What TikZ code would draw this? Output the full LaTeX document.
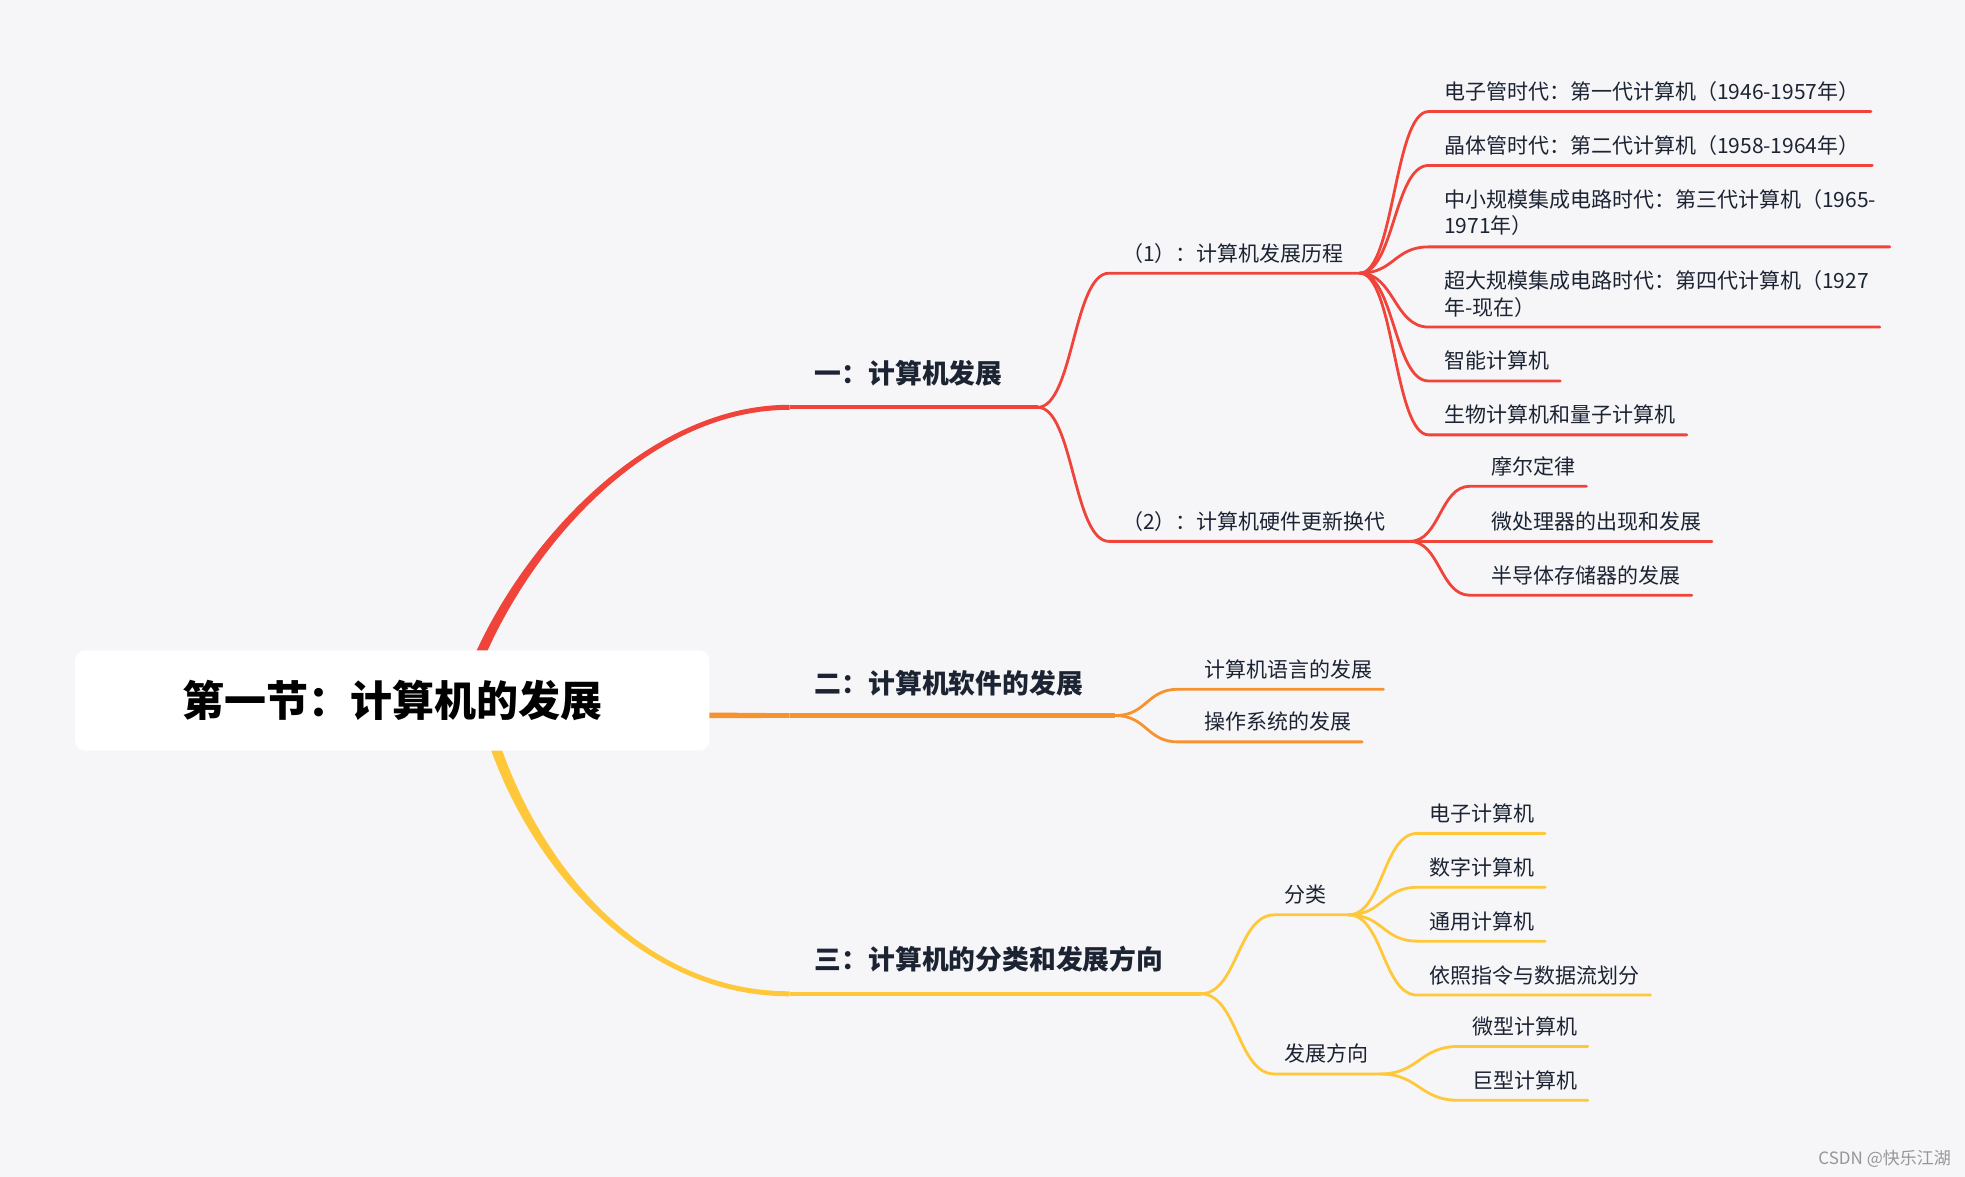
\documentclass[tikz,border=0pt]{standalone}
\usepackage{fontspec}
\setmainfont{Noto Sans CJK SC}
\usetikzlibrary{calc}
\definecolor{bgc}{RGB}{246,246,248}
\definecolor{ink}{RGB}{28,36,51}
\definecolor{mmred}{RGB}{240,67,58}
\definecolor{mmorange}{RGB}{247,146,46}
\definecolor{mmyellow}{RGB}{255,200,58}
\definecolor{wmark}{RGB}{150,150,150}
\newcommand\mmlink[4]{\draw[#1] (#2) .. controls ($(#2)!0.5!(#2-|#3)$) and ($(#3)!0.5!(#3-|#2)$) .. (#3) -- (#4);}
\tikzset{
  lk/.style={line width=1.4pt, line cap=round},
  lv/.style={line width=2.2pt},
  t2/.style={font=\fontsize{10.5pt}{13.2pt}\selectfont, text=ink, inner sep=0pt, anchor=base west},
  t2m/.style={t2, align=left},
  t1/.style={font=\fontsize{13.4pt}{16pt}\selectfont\bfseries, text=ink, inner sep=0pt, anchor=base west},
}
\begin{document}
\begin{tikzpicture}[x=0.6266pt,y=-0.6266pt]
\fill[bgc] (0,0) rectangle (1568,939);
\useasboundingbox (0,0) rectangle (1568,939);

% ---------- coordinates ----------
\coordinate (r0) at (630,325);  \coordinate (f1) at (828,325);
\coordinate (p1s) at (885,218); \coordinate (p1e) at (1085,218);
\coordinate (p2s) at (885,432); \coordinate (p2e) at (1125,432);
\coordinate (a1s) at (1140,89);  \coordinate (a1e) at (1493,89);
\coordinate (a2s) at (1140,132); \coordinate (a2e) at (1494,132);
\coordinate (a3s) at (1140,197); \coordinate (a3e) at (1508,197);
\coordinate (a4s) at (1140,261); \coordinate (a4e) at (1500,261);
\coordinate (a5s) at (1140,304); \coordinate (a5e) at (1245,304);
\coordinate (a6s) at (1140,347); \coordinate (a6e) at (1346,347);
\coordinate (b1s) at (1173,388); \coordinate (b1e) at (1266,388);
\coordinate (b2s) at (1173,432); \coordinate (b2e) at (1366,432);
\coordinate (b3s) at (1173,475); \coordinate (b3e) at (1350,475);

\coordinate (o0) at (630,571);  \coordinate (f2) at (890,571);
\coordinate (o1s) at (940,550); \coordinate (o1e) at (1104,550);
\coordinate (o2s) at (940,592); \coordinate (o2e) at (1087,592);

\coordinate (y0) at (630,793);  \coordinate (f3) at (958,793);
\coordinate (q1s) at (1017,730); \coordinate (q1e) at (1076,730);
\coordinate (q2s) at (1017,857); \coordinate (q2e) at (1101,857);
\coordinate (y1s) at (1131,665); \coordinate (y1e) at (1233,665);
\coordinate (y2s) at (1131,708); \coordinate (y2e) at (1233,708);
\coordinate (y3s) at (1131,751); \coordinate (y3e) at (1233,751);
\coordinate (y4s) at (1131,794); \coordinate (y4e) at (1317,794);
\coordinate (z1s) at (1164,835); \coordinate (z1e) at (1267,835);
\coordinate (z2s) at (1164,878); \coordinate (z2e) at (1267,878);

% ---------- main branches (tapered) ----------
\fill[mmred] (360.5,575) .. controls (385.8,468.5) and (500,323) .. (630,323)
  -- (630,327) .. controls (500,327) and (394.2,471.5) .. (369.5,575) -- cycle;
\draw[lv,mmred] (r0) -- (f1);
\fill[mmorange] (560,568.5) -- (630,569.1) -- (630,572.9) -- (560,573.0) -- cycle;
\draw[lv,mmorange] (o0) -- (f2);
\fill[mmyellow] (380.5,560) .. controls (405.8,671.5) and (500,795) .. (630,795)
  -- (630,791) .. controls (500,791) and (414.2,668.5) .. (389.5,560) -- cycle;
\draw[lv,mmyellow] (y0) -- (f3);

% ---------- red sub-branches ----------
\mmlink{lk,mmred}{f1}{p1s}{p1e}
\mmlink{lk,mmred}{f1}{p2s}{p2e}
\mmlink{lk,mmred}{p1e}{a1s}{a1e}
\mmlink{lk,mmred}{p1e}{a2s}{a2e}
\mmlink{lk,mmred}{p1e}{a3s}{a3e}
\mmlink{lk,mmred}{p1e}{a4s}{a4e}
\mmlink{lk,mmred}{p1e}{a5s}{a5e}
\mmlink{lk,mmred}{p1e}{a6s}{a6e}
\mmlink{lk,mmred}{p2e}{b1s}{b1e}
\mmlink{lk,mmred}{p2e}{b2s}{b2e}
\mmlink{lk,mmred}{p2e}{b3s}{b3e}

% ---------- orange sub-branches ----------
\mmlink{lk,mmorange}{f2}{o1s}{o1e}
\mmlink{lk,mmorange}{f2}{o2s}{o2e}

% ---------- yellow sub-branches ----------
\mmlink{lk,mmyellow}{f3}{q1s}{q1e}
\mmlink{lk,mmyellow}{f3}{q2s}{q2e}
\mmlink{lk,mmyellow}{q1e}{y1s}{y1e}
\mmlink{lk,mmyellow}{q1e}{y2s}{y2e}
\mmlink{lk,mmyellow}{q1e}{y3s}{y3e}
\mmlink{lk,mmyellow}{q1e}{y4s}{y4e}
\mmlink{lk,mmyellow}{q2e}{z1s}{z1e}
\mmlink{lk,mmyellow}{q2e}{z2s}{z2e}

% ---------- root ----------
\node[fill=white, rounded corners=5pt, minimum width=317.1pt, minimum height=50.1pt,
      inner sep=0pt, font=\fontsize{21pt}{25pt}\selectfont\bfseries, text=black]
      (root) at (313,559) {第一节：计算机的发展};

% ---------- level 1 texts ----------
\node[t1] (n1) at (650,306) {一：计算机发展};
\node[t1] (n2) at (650,553) {二：计算机软件的发展};
\node[t1] (n3) at (650,774) {三：计算机的分类和发展方向};

% ---------- level 2+ texts ----------
\node[t2] (p1) at (895,208.4) {（1）：计算机发展历程};
\node[t2] (p2) at (895,422.4) {（2）：计算机硬件更新换代};
\node[t2] (a1) at (1152,79.4) {电子管时代：第一代计算机（1946-1957年）};
\node[t2] (a2) at (1152,122.4) {晶体管时代：第二代计算机（1958-1964年）};
\node[t2m] (a3) at (1152,186.4) {中小规模集成电路时代：第三代计算机（1965-\\1971年）};
\node[t2m] (a4) at (1152,251.4) {超大规模集成电路时代：第四代计算机（1927\\年-现在）};
\node[t2] (a5) at (1152,294.4) {智能计算机};
\node[t2] (a6) at (1152,337.4) {生物计算机和量子计算机};
\node[t2] (b1) at (1190,378.4) {摩尔定律};
\node[t2] (b2) at (1190,422.4) {微处理器的出现和发展};
\node[t2] (b3) at (1190,465.4) {半导体存储器的发展};

\node[t2] (o1) at (961,540.4) {计算机语言的发展};
\node[t2] (o2) at (961,582.4) {操作系统的发展};

\node[t2] (q1) at (1025,720.4) {分类};
\node[t2] (q2) at (1025,847.4) {发展方向};
\node[t2] (y1) at (1140,655.4) {电子计算机};
\node[t2] (y2) at (1140,698.4) {数字计算机};
\node[t2] (y3) at (1140,741.4) {通用计算机};
\node[t2] (y4) at (1140,784.4) {依照指令与数据流划分};
\node[t2] (z1) at (1175,825.4) {微型计算机};
\node[t2] (z2) at (1175,868.4) {巨型计算机};

% ---------- watermark ----------
\node[font=\fontsize{8.5pt}{10pt}\selectfont, text=wmark, inner sep=0pt, anchor=base east]
  (wm) at (1557,929) {CSDN @快乐江湖};
\end{tikzpicture}
\end{document}
